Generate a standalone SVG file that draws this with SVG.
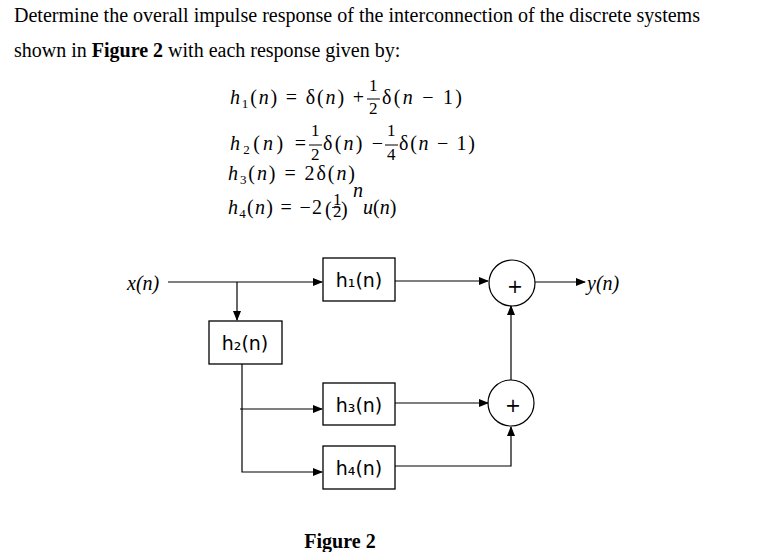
<svg xmlns="http://www.w3.org/2000/svg" width="763" height="552" viewBox="0 0 763 552">
<defs>
<style>
.t{font-family:"Liberation Serif",serif;font-size:20px;fill:#000}
.m{font-family:"Liberation Serif",serif;font-size:20px;fill:#000}
.mi{font-style:italic}
.s{font-size:13px}
.fr{font-family:"Liberation Serif",serif;font-size:17px}
.box{fill:#fff;stroke:#000;stroke-width:1.3}
.bl{font-family:"DejaVu Sans","Liberation Sans",sans-serif;font-size:19px}
.ln{stroke:#000;stroke-width:1.2;fill:none}
</style>
<marker id="a" markerWidth="10" markerHeight="8" refX="9" refY="4" orient="auto" markerUnits="userSpaceOnUse"><path d="M0,0L10,4L0,8z"/></marker>
</defs>
<rect width="763" height="552" fill="#fff"/>
<text class="t" x="14" y="22" textLength="686" lengthAdjust="spacingAndGlyphs">Determine the overall impulse response of the interconnection of the discrete systems</text>
<text class="t" x="14" y="57">shown in <tspan font-weight="bold">Figure 2</tspan> with each response given by:</text>
<g id="eq">
<text class="m" x="230" y="104" textLength="134"><tspan class="mi">h</tspan><tspan class="s" dy="4">1</tspan><tspan dy="-4">(</tspan><tspan class="mi">n</tspan>) = δ(<tspan class="mi">n</tspan>) +</text>
<text class="fr" x="369" y="91">1</text><line x1="367" y1="99" x2="380" y2="99" stroke="#000"/><text class="fr" x="369" y="114">2</text>
<text class="m" x="382" y="104" textLength="80">δ(<tspan class="mi">n</tspan> − 1)</text>
<text class="m" x="230" y="150" textLength="76"><tspan class="mi">h</tspan><tspan class="s" dy="4">2</tspan><tspan dy="-4">(</tspan><tspan class="mi">n</tspan>) =</text>
<text class="fr" x="311" y="136">1</text><line x1="309" y1="145" x2="322" y2="145" stroke="#000"/><text class="fr" x="311" y="160">2</text>
<text class="m" x="323" y="150" textLength="60">δ(<tspan class="mi">n</tspan>) −</text>
<text class="fr" x="387" y="136">1</text><line x1="385" y1="145" x2="398" y2="145" stroke="#000"/><text class="fr" x="387" y="160">4</text>
<text class="m" x="399" y="150" textLength="76">δ(<tspan class="mi">n</tspan> − 1)</text>
<text class="m" x="228" y="180" textLength="127"><tspan class="mi">h</tspan><tspan class="s" dy="4">3</tspan><tspan dy="-4">(</tspan><tspan class="mi">n</tspan>) = 2δ(<tspan class="mi">n</tspan>)</text>
<text class="m" x="228" y="214" textLength="94"><tspan class="mi">h</tspan><tspan class="s" dy="4">4</tspan><tspan dy="-4">(</tspan><tspan class="mi">n</tspan>) = −2</text>
<text class="m" x="325" y="216" font-size="22">(</text>
<text class="fr" x="333" y="205" font-size="9">1</text><line x1="332" y1="207.5" x2="340" y2="207.5" stroke="#000" stroke-width="0.8"/><text class="fr" x="333" y="217" font-size="9">2</text>
<text class="m" x="341" y="216" font-size="22">)</text>
<text class="m mi" x="353" y="197" font-size="13">n</text>
<text class="m" x="363" y="214"><tspan class="mi">u</tspan>(<tspan class="mi">n</tspan>)</text>
</g>
<g id="connectors">
<line class="ln" x1="168" y1="282" x2="322" y2="282" marker-end="url(#a)"/>
<line class="ln" x1="237" y1="282" x2="237" y2="320" marker-end="url(#a)"/>
<polyline class="ln" points="242,364 242,472 322,472" marker-end="url(#a)"/>
<line class="ln" x1="240" y1="409" x2="322" y2="409" marker-end="url(#a)"/>
<line class="ln" x1="395" y1="281" x2="488" y2="281" marker-end="url(#a)"/>
<line class="ln" x1="535" y1="282" x2="585" y2="282" marker-end="url(#a)"/>
<line class="ln" x1="395" y1="403" x2="488" y2="403" marker-end="url(#a)"/>
<polyline class="ln" points="395,466 511,466 511,427" marker-end="url(#a)"/>
<line class="ln" x1="511" y1="380" x2="511" y2="306" marker-end="url(#a)"/>
</g>
<text class="t mi" x="127" y="290" font-size="19">x(n)</text>
<text class="t mi" x="587" y="290" font-size="19">y(n)</text>
<g id="h1"><rect class="box" x="323" y="258" width="72" height="43"/><text class="bl" x="359" y="287" text-anchor="middle">h₁(n)</text></g>
<g id="h2"><rect class="box" x="209" y="321" width="73" height="43"/><text class="bl" x="245" y="350" text-anchor="middle">h₂(n)</text></g>
<g id="h3"><rect class="box" x="323" y="383" width="72" height="42"/><text class="bl" x="359" y="412" text-anchor="middle">h₃(n)</text></g>
<g id="h4"><rect class="box" x="323" y="446" width="72" height="43"/><text class="bl" x="359" y="475" text-anchor="middle">h₄(n)</text></g>
<g id="sum1"><circle class="ln" cx="512" cy="283" r="23"/><text class="bl" x="515" y="293" text-anchor="middle" font-size="15">+</text></g>
<g id="sum2"><circle class="ln" cx="511" cy="403" r="23"/><text class="bl" x="513" y="412" text-anchor="middle" font-size="15">+</text></g>
<text class="t" x="340" y="548" text-anchor="middle" font-weight="bold" font-size="19">Figure 2</text>
</svg>
